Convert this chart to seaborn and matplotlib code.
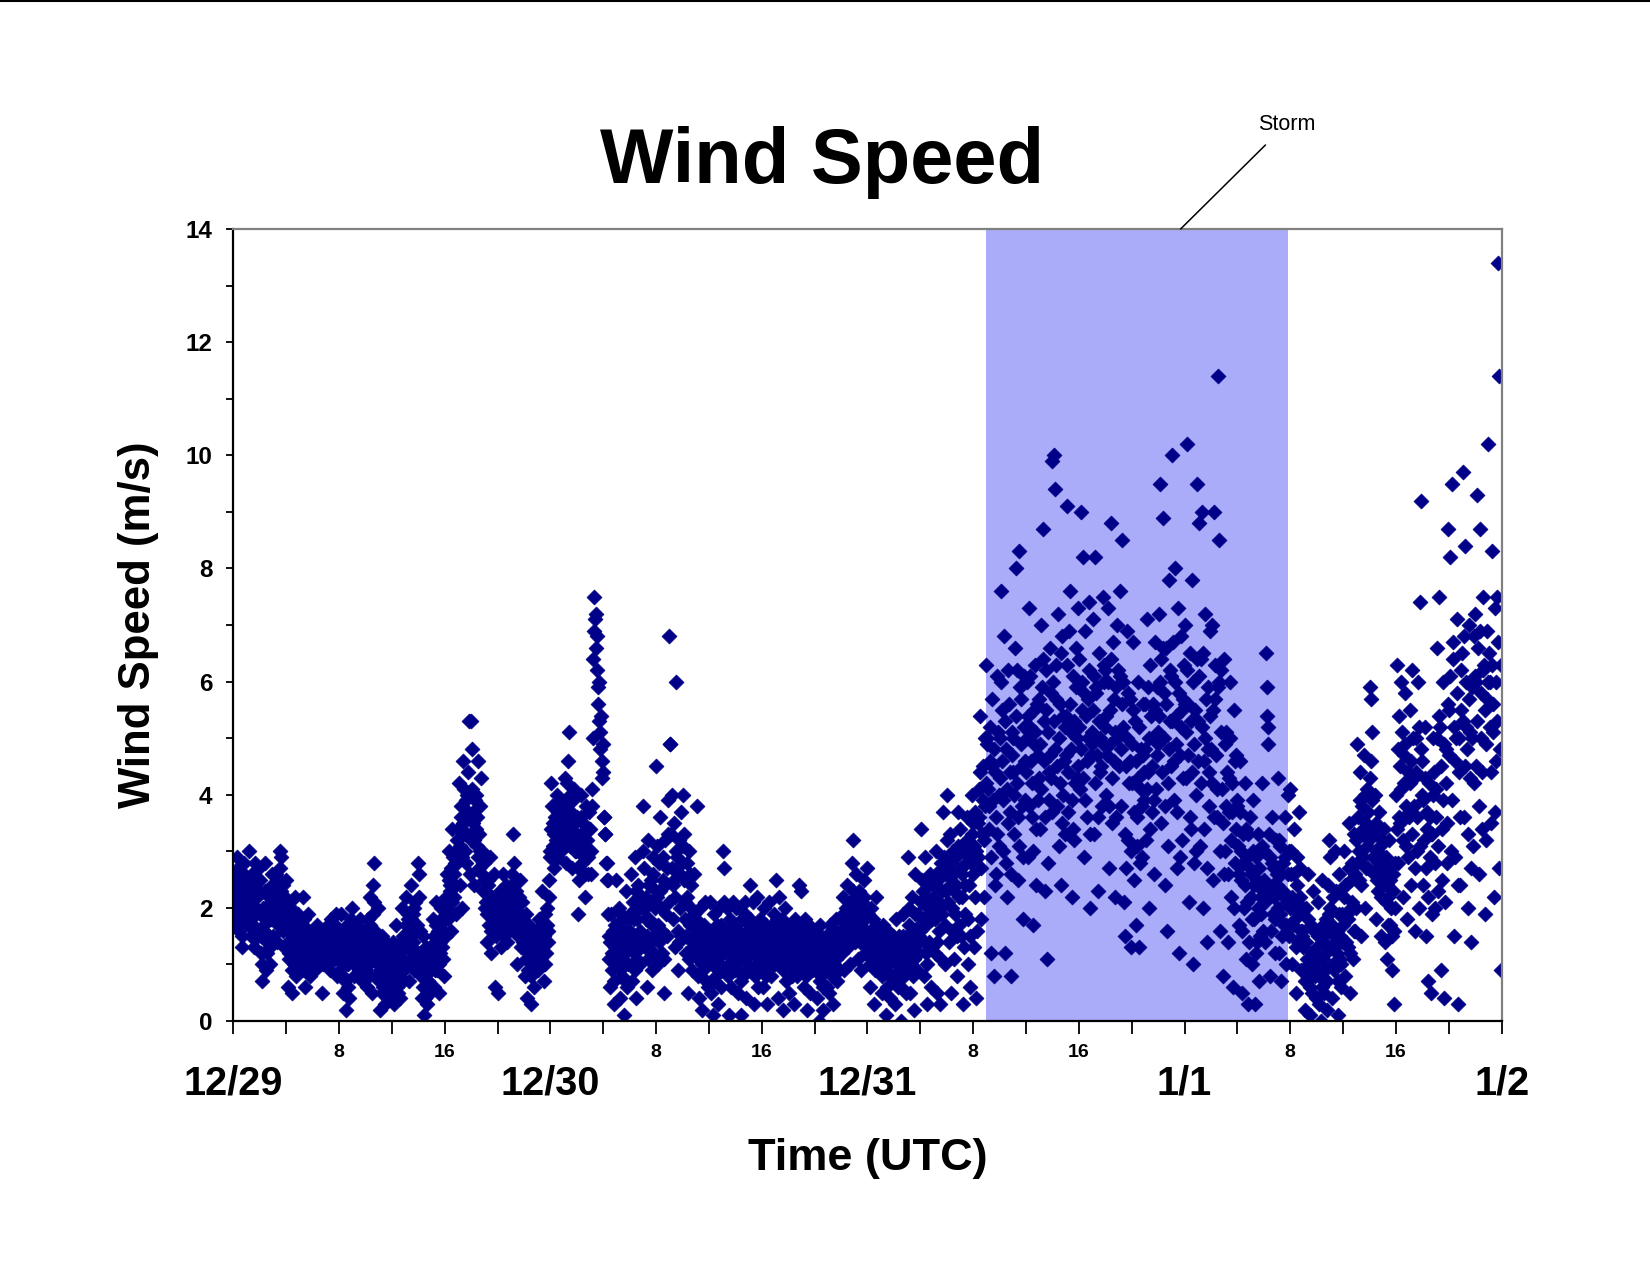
import numpy as np
import pandas as pd
import matplotlib
matplotlib.use("Agg")
import matplotlib.pyplot as plt
import matplotlib.transforms as mtransforms
import seaborn as sns

# Wind speed (m/s), 2.5-minute readings; one inner list per UTC hour
speed_1229 = [
    [2.1, 2.4, 2.6, 2.0, 1.8, 2.2, 2.9, 1.7, 2.3, 2.7, 1.6, 1.9, 2.0, 2.3, 2.5, 1.5, 1.3, 2.1, 2.2, 2.6, 2.8, 1.8, 1.9, 2.0],
    [2.4, 2.0, 1.7, 2.5, 3.0, 1.8, 2.0, 2.3, 1.5, 2.1, 2.6, 1.7, 2.2, 1.9, 1.3, 2.4, 2.8, 2.0, 1.9, 2.2, 2.3, 1.5, 1.6, 2.7],
    [2.5, 1.9, 1.2, 1.5, 0.7, 1.0, 2.0, 1.7, 1.6, 2.3, 2.8, 2.0, 0.9, 1.2, 1.4, 1.8, 2.2, 1.5, 1.0, 1.3, 1.8, 2.1, 2.6, 2.4],
    [1.5, 2.0, 2.3, 1.8, 1.9, 2.4, 2.6, 2.1, 1.4, 1.7, 2.0, 2.5, 3.0, 2.7, 2.9, 2.3, 1.7, 2.0, 2.4, 1.6, 1.3, 1.9, 2.2, 2.1],
    [2.5, 2.1, 1.8, 1.4, 0.6, 1.1, 1.2, 1.6, 2.0, 1.3, 0.5, 0.9, 1.5, 1.8, 1.0, 1.4, 2.2, 1.6, 0.8, 1.1, 1.3, 1.9, 1.7, 1.2],
    [1.2, 1.4, 1.6, 1.1, 0.9, 1.3, 2.2, 1.7, 1.8, 1.5, 0.6, 1.0, 1.4, 1.2, 1.0, 1.6, 1.9, 1.4, 1.3, 1.1, 0.8, 1.3, 1.5, 1.2],
    [1.2, 1.4, 1.6, 1.3, 0.9, 1.1, 1.4, 1.5, 1.7, 1.2, 1.1, 1.4, 1.5, 1.3, 1.0, 1.6, 1.3, 1.1, 0.5, 1.0, 1.6, 1.4, 1.2, 1.5],
    [1.4, 1.2, 1.0, 1.5, 1.7, 1.3, 1.2, 1.6, 0.9, 1.4, 1.8, 1.1, 1.3, 1.5, 1.5, 1.2, 1.1, 1.7, 1.9, 1.4, 0.8, 1.3, 1.6, 1.1],
    [1.6, 1.3, 0.9, 1.4, 1.9, 1.1, 1.2, 0.8, 0.5, 1.0, 1.4, 0.7, 0.2, 1.2, 1.7, 1.5, 1.0, 0.6, 0.4, 1.1, 1.3, 1.6, 1.8, 1.4],
    [2.0, 1.5, 1.3, 1.0, 0.8, 1.2, 1.7, 1.4, 1.1, 1.3, 1.5, 1.1, 0.9, 1.6, 1.8, 1.0, 1.2, 1.4, 0.7, 1.2, 1.4, 0.9, 1.6, 1.3],
    [1.2, 0.9, 0.6, 1.3, 1.8, 1.5, 1.0, 0.8, 2.2, 1.7, 1.4, 1.1, 0.5, 1.9, 2.4, 2.1, 2.8, 1.4, 1.6, 1.2, 0.8, 1.5, 2.0, 1.0],
    [1.3, 0.7, 0.2, 0.9, 0.9, 1.2, 1.5, 0.5, 0.6, 1.0, 1.1, 0.8, 0.3, 0.6, 1.4, 1.1, 0.8, 0.4, 1.2, 0.9, 0.5, 1.3, 1.0, 0.7],
    [0.8, 1.0, 1.4, 0.7, 0.3, 1.2, 1.1, 0.9, 1.7, 1.1, 0.6, 0.5, 1.3, 0.8, 0.4, 1.2, 1.0, 1.4, 2.0, 1.1, 1.5, 0.7, 0.9, 1.3],
    [1.5, 1.7, 2.2, 1.3, 1.0, 1.9, 1.8, 1.5, 0.7, 1.1, 2.4, 1.8, 1.3, 1.6, 1.9, 1.4, 0.9, 2.0, 2.1, 1.2, 1.6, 1.7, 1.2, 1.0],
    [2.8, 2.2, 2.6, 1.6, 1.2, 0.8, 0.4, 1.0, 1.5, 0.6, 0.1, 0.9, 0.9, 0.4, 1.3, 1.1, 0.3, 0.7, 0.7, 1.2, 1.1, 0.6, 0.5, 0.9],
    [1.0, 1.3, 1.8, 1.1, 0.6, 1.5, 1.4, 0.9, 2.1, 1.7, 0.9, 1.2, 1.6, 1.0, 0.5, 1.4, 1.2, 1.8, 2.0, 1.3, 1.5, 1.1, 0.8, 1.6],
    [2.0, 1.8, 1.5, 2.2, 2.6, 2.0, 1.8, 2.5, 3.0, 2.4, 2.3, 2.7, 1.6, 2.1, 3.4, 2.9, 2.2, 2.6, 2.8, 2.4, 1.9, 3.0, 3.2, 2.8],
    [3.0, 3.4, 4.2, 3.1, 2.4, 3.8, 3.6, 2.9, 2.0, 3.5, 4.6, 4.1, 3.3, 3.0, 2.8, 3.9, 4.0, 3.3, 3.7, 4.4, 5.3, 3.6, 2.6, 3.2],
    [5.3, 4.1, 4.8, 3.7, 3.5, 3.2, 2.4, 3.9, 4.0, 3.4, 3.1, 3.6, 4.6, 2.9, 2.7, 3.3, 3.8, 3.0, 4.3, 2.6, 3.0, 2.8, 2.3, 2.5],
    [2.8, 2.3, 2.0, 2.1, 1.4, 1.9, 2.5, 2.4, 1.7, 2.0, 2.9, 2.2, 1.2, 1.6, 2.2, 1.9, 1.8, 2.1, 2.6, 1.8, 0.6, 1.6, 1.5, 2.0],
    [0.5, 1.8, 1.6, 2.0, 2.3, 1.7, 1.3, 2.2, 2.0, 1.9, 2.6, 2.1, 1.5, 1.8, 1.9, 2.3, 2.4, 1.6, 1.4, 2.0, 2.1, 1.9, 1.7, 2.2],
    [2.0, 2.2, 2.6, 2.4, 3.3, 2.1, 2.8, 2.0, 1.6, 1.8, 2.3, 2.5, 1.0, 1.5, 1.9, 2.2, 2.5, 1.9, 1.3, 1.6, 2.1, 1.8, 1.7, 1.4],
    [1.5, 1.3, 0.8, 1.1, 1.9, 1.4, 0.4, 0.9, 1.2, 1.5, 1.7, 1.2, 0.3, 0.8, 1.0, 1.3, 1.6, 1.1, 0.6, 1.0, 1.3, 1.2, 0.9, 1.4],
    [1.3, 1.1, 0.9, 1.4, 1.8, 1.6, 1.1, 1.3, 2.3, 1.7, 1.5, 1.2, 0.7, 1.5, 1.9, 1.0, 1.2, 1.7, 2.0, 1.4, 1.6, 2.2, 2.5, 2.9],
]
speed_1230 = [
    [3.0, 3.4, 4.2, 3.8, 3.5, 3.1, 2.7, 3.3, 3.8, 3.6, 3.2, 2.9, 4.0, 3.7, 2.9, 3.4, 3.6, 3.9, 3.3, 3.0, 3.9, 3.5, 3.1, 3.7],
    [3.4, 3.8, 4.3, 3.6, 2.8, 3.3, 3.9, 4.2, 4.6, 3.5, 5.1, 4.0, 3.1, 3.4, 3.7, 3.2, 2.7, 3.9, 4.1, 3.6, 3.5, 3.0, 3.0, 3.3],
    [3.6, 3.2, 1.9, 2.7, 2.5, 3.0, 3.2, 3.6, 4.0, 3.3, 2.8, 3.1, 3.5, 2.9, 2.2, 2.6, 3.8, 3.4, 3.0, 3.2, 2.6, 2.9, 3.4, 3.7],
    [3.4, 3.0, 2.6, 3.8, 4.1, 5.0, 6.4, 6.9, 7.5, 7.1, 7.2, 6.6, 6.8, 6.2, 5.6, 5.9, 6.0, 5.3, 4.8, 5.1, 5.4, 4.6, 4.3, 4.9],
    [4.4, 3.6, 3.6, 3.3, 3.3, 2.8, 2.8, 2.5, 2.5, 1.9, 1.5, 1.1, 0.6, 1.4, 1.9, 1.2, 0.9, 1.6, 1.2, 0.7, 0.3, 1.3, 1.7, 1.0],
    [2.5, 1.7, 1.0, 1.4, 2.0, 1.1, 0.4, 0.9, 1.5, 1.9, 0.8, 1.2, 1.8, 1.5, 0.1, 0.7, 1.2, 1.6, 2.3, 1.3, 0.6, 1.0, 1.4, 1.8],
    [1.6, 1.9, 2.6, 1.3, 0.7, 1.5, 2.1, 1.8, 1.2, 0.9, 2.9, 2.3, 0.4, 1.1, 1.8, 1.4, 2.4, 2.0, 1.0, 1.6, 2.2, 1.3, 1.5, 2.0],
    [3.8, 3.0, 2.7, 2.0, 1.3, 1.8, 2.2, 1.5, 0.6, 1.1, 3.2, 2.4, 1.8, 2.1, 2.5, 1.4, 0.9, 1.7, 2.9, 2.6, 1.5, 1.2, 2.0, 2.3],
    [4.5, 3.1, 2.2, 1.7, 1.0, 1.4, 2.8, 2.3, 3.6, 2.0, 1.6, 1.2, 2.5, 2.9, 0.5, 1.1, 3.2, 2.4, 1.9, 1.5, 2.7, 3.3, 3.9, 2.1],
    [6.8, 4.9, 4.9, 3.3, 4.0, 2.7, 2.4, 1.8, 3.5, 2.5, 1.3, 2.2, 6.0, 3.0, 2.9, 1.6, 0.9, 1.4, 3.2, 2.6, 2.0, 1.5, 3.7, 2.8],
    [4.0, 3.1, 3.3, 2.5, 2.1, 1.8, 1.2, 1.5, 2.8, 2.2, 0.5, 1.1, 3.0, 2.6, 1.7, 2.0, 2.4, 1.4, 0.9, 1.3, 2.6, 1.9, 1.5, 1.2],
    [1.8, 1.4, 3.8, 1.6, 1.1, 0.8, 0.4, 1.2, 2.0, 1.5, 1.5, 1.0, 0.2, 0.9, 1.3, 1.7, 2.1, 1.4, 0.7, 1.1, 1.6, 1.2, 1.0, 0.6],
    [1.2, 1.5, 2.1, 1.3, 0.5, 1.0, 1.6, 1.2, 0.1, 0.7, 1.9, 1.4, 0.8, 1.1, 1.4, 1.7, 0.3, 0.9, 2.0, 1.3, 1.0, 0.6, 1.7, 1.2],
    [1.5, 1.2, 3.0, 2.1, 2.7, 1.6, 0.9, 1.3, 2.0, 1.5, 1.3, 0.8, 0.1, 1.0, 1.8, 1.4, 0.6, 1.2, 1.1, 1.7, 2.1, 1.5, 1.4, 0.9],
    [1.0, 1.3, 2.0, 1.6, 0.5, 0.9, 1.6, 1.2, 1.2, 1.5, 0.1, 0.7, 1.8, 1.4, 0.8, 1.1, 1.4, 1.9, 2.1, 1.3, 0.4, 1.0, 1.3, 1.6],
    [1.7, 1.4, 2.4, 1.8, 0.9, 1.2, 1.3, 1.6, 2.1, 1.5, 0.3, 0.8, 1.5, 1.2, 1.0, 1.4, 2.2, 1.7, 0.6, 1.1, 1.8, 1.3, 1.2, 0.9],
    [1.4, 1.1, 0.6, 1.3, 2.0, 1.6, 1.1, 0.8, 1.7, 1.4, 0.3, 1.0, 1.3, 1.5, 2.1, 1.2, 0.8, 1.4, 1.5, 1.7, 1.0, 1.2, 1.9, 1.3],
    [1.0, 1.4, 2.5, 1.8, 1.6, 1.2, 0.4, 1.0, 2.2, 1.5, 1.2, 1.7, 1.8, 1.3, 0.2, 0.9, 1.4, 1.1, 2.0, 1.6, 0.7, 1.2, 1.5, 1.3],
    [1.3, 1.0, 0.5, 1.2, 1.7, 1.4, 1.0, 0.8, 1.5, 1.2, 0.3, 0.9, 1.8, 1.3, 1.1, 1.5, 0.8, 1.0, 1.6, 1.3, 2.4, 1.7, 1.2, 0.9],
    [2.3, 1.6, 1.5, 1.1, 0.6, 1.3, 1.8, 1.4, 1.0, 0.8, 0.2, 1.2, 1.4, 1.6, 1.7, 1.0, 0.5, 1.3, 1.2, 0.9, 0.9, 1.4, 1.6, 1.1],
    [1.1, 1.4, 1.6, 0.9, 0.4, 1.1, 1.3, 1.5, 0.0, 0.7, 1.7, 1.2, 0.8, 1.0, 1.4, 0.6, 0.2, 1.2, 1.0, 1.3, 1.5, 0.9, 0.6, 1.1],
    [1.3, 1.1, 0.5, 1.4, 1.7, 1.2, 1.0, 0.8, 1.5, 1.3, 0.3, 1.0, 1.2, 1.6, 1.8, 1.1, 0.7, 1.4, 1.4, 1.2, 0.9, 1.5, 1.6, 1.3],
    [1.8, 1.5, 1.2, 1.9, 2.2, 1.6, 0.9, 1.4, 1.6, 2.0, 2.4, 1.7, 1.3, 1.9, 2.0, 1.5, 1.0, 1.8, 1.7, 2.1, 2.8, 2.3, 3.2, 2.0],
    [2.0, 1.7, 1.4, 2.2, 2.6, 1.8, 1.1, 1.6, 2.3, 2.0, 1.7, 1.4, 0.9, 1.5, 2.1, 1.9, 1.5, 2.2, 2.5, 1.8, 1.2, 1.6, 1.9, 1.3],
]
speed_1231 = [
    [2.7, 1.9, 1.5, 1.2, 0.6, 1.0, 2.0, 1.6, 1.1, 1.4, 1.8, 1.3, 0.3, 0.9, 1.4, 1.7, 2.2, 1.5, 0.9, 1.2, 1.6, 1.0, 1.2, 1.5],
    [1.2, 1.0, 0.5, 0.8, 1.7, 1.3, 0.9, 1.1, 1.4, 1.2, 0.1, 0.6, 1.1, 1.4, 1.6, 1.0, 0.4, 0.8, 1.3, 1.5, 0.8, 1.1, 1.5, 1.2],
    [1.4, 1.1, 0.3, 0.7, 1.8, 1.4, 1.0, 1.2, 0.6, 0.9, 1.5, 1.3, 0.0, 0.6, 1.2, 1.0, 1.9, 1.5, 0.8, 1.1, 1.3, 0.9, 0.5, 1.0],
    [1.0, 1.4, 2.9, 2.0, 1.7, 1.2, 0.5, 1.0, 2.2, 1.6, 1.3, 0.8, 0.2, 1.1, 2.6, 1.9, 1.5, 1.2, 0.9, 1.4, 1.9, 1.5, 1.2, 1.7],
    [1.6, 2.1, 3.4, 2.5, 2.3, 1.8, 0.8, 1.4, 2.9, 2.2, 1.2, 1.7, 0.3, 1.0, 2.0, 2.4, 1.4, 1.9, 2.6, 2.1, 0.6, 1.3, 1.8, 2.2],
    [2.0, 2.4, 1.2, 1.8, 3.0, 2.6, 0.5, 1.4, 2.5, 2.1, 1.6, 2.0, 0.3, 1.1, 2.8, 2.3, 1.9, 2.7, 3.7, 2.9, 1.0, 1.7, 2.3, 2.6],
    [4.0, 3.2, 2.6, 2.1, 1.4, 2.4, 3.3, 2.8, 0.5, 1.6, 2.0, 2.6, 3.0, 2.3, 1.1, 1.9, 2.4, 2.9, 0.8, 1.5, 3.7, 3.1, 1.7, 2.2],
    [3.4, 2.7, 1.5, 2.2, 2.6, 3.1, 0.3, 1.3, 3.0, 2.4, 1.9, 2.8, 3.6, 3.2, 1.0, 1.8, 2.4, 2.9, 0.6, 1.5, 2.8, 3.3, 4.0, 3.5],
    [2.6, 3.1, 1.3, 2.2, 3.7, 3.0, 0.4, 1.6, 2.9, 3.5, 4.1, 3.6, 5.4, 4.4, 1.8, 2.7, 3.3, 3.9, 4.5, 3.2, 2.2, 3.8, 5.0, 4.2],
    [6.3, 4.9, 5.0, 4.1, 3.4, 3.8, 4.6, 5.2, 1.2, 2.9, 5.7, 4.5, 3.9, 4.8, 0.8, 2.4, 4.4, 3.6, 2.6, 3.3, 6.1, 5.1, 3.1, 4.0],
    [4.3, 5.0, 7.6, 6.0, 5.5, 4.6, 3.0, 3.9, 6.8, 5.3, 1.2, 2.8, 4.8, 4.1, 2.2, 3.5, 6.2, 5.6, 3.7, 4.4, 0.8, 2.6, 5.1, 4.7],
    [5.0, 4.4, 3.3, 4.0, 6.6, 5.4, 8.0, 6.2, 4.2, 3.6, 2.5, 3.1, 8.3, 5.9, 5.7, 4.9, 3.8, 4.5, 1.8, 2.9, 6.1, 5.2, 4.6, 3.9],
    [4.4, 5.0, 6.0, 5.4, 2.9, 3.8, 7.3, 6.1, 5.2, 4.6, 3.6, 4.2, 1.7, 3.0, 4.9, 5.5, 6.3, 5.1, 2.4, 3.4, 5.6, 4.7, 3.9, 4.3],
    [5.7, 4.9, 3.4, 4.1, 7.0, 5.9, 8.7, 6.4, 4.6, 5.3, 2.3, 3.6, 6.2, 5.5, 1.1, 2.8, 5.1, 4.4, 3.9, 4.7, 6.6, 5.8, 4.3, 3.7],
    [9.9, 6.0, 10.0, 5.3, 9.4, 4.8, 6.3, 5.7, 4.5, 3.8, 7.2, 5.0, 3.1, 4.2, 5.6, 6.5, 2.4, 3.5, 6.8, 5.4, 4.0, 4.6, 5.2, 3.3],
    [5.4, 4.7, 9.1, 6.3, 3.7, 4.4, 6.9, 5.6, 7.6, 5.1, 4.8, 3.9, 2.2, 3.4, 6.1, 5.3, 3.2, 4.2, 5.9, 6.6, 4.3, 5.0, 7.3, 4.5],
    [6.4, 5.2, 4.1, 4.8, 9.0, 6.0, 5.5, 4.3, 8.2, 5.8, 2.9, 3.9, 6.9, 5.4, 3.6, 4.6, 5.0, 5.7, 7.4, 6.2, 2.0, 3.3, 4.7, 5.1],
    [4.9, 5.5, 7.1, 6.1, 3.3, 4.2, 8.2, 5.9, 5.8, 4.7, 2.3, 3.6, 6.5, 5.3, 4.4, 5.0, 5.3, 4.5, 3.8, 4.9, 7.5, 6.3, 6.0, 5.2],
    [6.2, 5.4, 4.0, 4.7, 7.3, 6.0, 2.7, 3.8, 5.5, 4.9, 8.8, 6.4, 3.5, 4.3, 6.7, 5.7, 4.6, 5.1, 2.2, 3.6, 5.9, 5.0, 7.0, 6.2],
    [5.1, 4.5, 7.6, 6.1, 3.8, 4.8, 8.5, 5.6, 6.0, 5.2, 2.1, 3.3, 1.5, 2.7, 4.5, 5.0, 6.9, 5.8, 3.2, 4.2, 5.7, 4.6, 1.3, 3.0],
    [4.2, 4.9, 6.7, 5.5, 2.5, 3.7, 5.3, 4.6, 1.7, 3.1, 3.6, 4.3, 6.0, 5.2, 1.3, 2.8, 4.8, 4.1, 2.9, 3.8, 5.6, 4.7, 3.9, 4.4],
    [5.6, 4.8, 3.2, 4.1, 7.1, 5.9, 4.4, 5.0, 2.0, 3.4, 6.3, 5.4, 3.7, 4.5, 5.0, 5.6, 2.6, 3.9, 6.7, 5.5, 4.1, 4.7, 5.9, 5.1],
    [4.9, 5.4, 7.2, 6.0, 9.5, 6.4, 3.5, 4.4, 8.9, 6.6, 5.8, 5.0, 2.4, 3.8, 6.6, 5.6, 1.6, 3.1, 4.2, 4.8, 7.8, 6.2, 5.3, 4.5],
    [6.1, 5.3, 10.0, 6.7, 3.9, 4.6, 8.0, 6.0, 5.4, 4.9, 2.7, 3.7, 7.3, 5.8, 1.2, 2.9, 4.7, 5.2, 6.8, 5.5, 3.2, 4.3, 5.7, 6.3],
]
speed_0101 = [
    [7.0, 5.6, 4.3, 5.1, 10.2, 6.2, 5.6, 4.7, 2.1, 3.6, 6.5, 5.3, 3.4, 4.4, 7.8, 6.0, 1.0, 2.8, 4.9, 5.5, 3.0, 4.0, 9.5, 6.4],
    [5.3, 4.6, 8.8, 6.1, 3.1, 4.2, 6.4, 5.2, 9.0, 6.5, 2.0, 3.4, 4.6, 5.0, 7.2, 5.7, 1.4, 2.7, 5.9, 4.8, 3.8, 4.4, 6.9, 5.4],
    [4.8, 4.2, 7.0, 5.5, 2.5, 3.6, 9.0, 6.3, 5.7, 4.7, 3.6, 4.1, 11.4, 5.9, 8.5, 6.0, 1.6, 3.0, 6.2, 5.1, 4.1, 3.5, 0.8, 2.6],
    [6.4, 4.9, 3.0, 3.8, 5.1, 4.4, 1.4, 2.6, 4.3, 3.7, 6.0, 5.0, 2.2, 3.2, 3.7, 4.2, 0.6, 2.0, 5.5, 4.6, 2.8, 3.4, 4.7, 3.9],
    [3.8, 3.1, 1.7, 2.6, 4.6, 3.7, 2.5, 3.0, 0.5, 1.6, 3.3, 2.8, 2.0, 2.4, 4.2, 3.4, 1.1, 2.1, 2.9, 3.3, 0.3, 1.4, 3.6, 2.7],
    [2.6, 2.2, 1.0, 1.8, 3.9, 3.0, 1.8, 2.4, 0.3, 1.2, 2.9, 2.5, 1.4, 2.0, 3.3, 2.7, 0.7, 1.5, 2.2, 1.9, 4.2, 3.1, 1.6, 2.3],
    [3.0, 2.5, 1.4, 2.1, 6.5, 5.9, 5.4, 5.2, 4.9, 3.3, 2.3, 2.9, 0.8, 1.6, 3.6, 2.8, 1.9, 2.4, 2.7, 2.2, 1.2, 1.8, 3.2, 2.6],
    [2.4, 2.0, 4.3, 3.2, 1.2, 1.9, 3.1, 2.6, 0.7, 1.5, 2.8, 2.3, 1.7, 2.2, 3.6, 2.9, 1.0, 1.7, 2.1, 2.6, 4.0, 3.0, 1.5, 2.0],
    [4.1, 3.0, 2.6, 2.2, 1.0, 1.7, 3.4, 2.6, 1.8, 2.1, 0.5, 1.3, 2.9, 2.4, 1.4, 1.9, 3.7, 2.7, 2.2, 1.6, 0.9, 1.5, 1.6, 2.0],
    [1.3, 0.9, 0.2, 0.7, 2.0, 1.4, 0.7, 1.1, 2.6, 1.8, 1.0, 0.6, 0.1, 0.8, 1.7, 1.2, 0.5, 1.0, 2.3, 1.6, 1.2, 0.8, 0.4, 1.1],
    [0.9, 1.3, 2.1, 1.5, 0.3, 0.8, 1.5, 1.1, 0.0, 0.6, 2.5, 1.7, 1.1, 1.4, 0.5, 0.9, 1.8, 1.2, 0.2, 0.7, 2.4, 1.6, 3.2, 1.9],
    [2.9, 2.0, 1.3, 1.7, 0.4, 1.0, 2.2, 1.5, 0.9, 1.3, 3.0, 2.3, 1.6, 1.2, 0.1, 0.7, 2.6, 1.9, 1.1, 1.5, 0.6, 1.0, 1.9, 1.4],
    [1.7, 2.2, 3.0, 2.4, 0.8, 1.4, 2.4, 1.9, 1.3, 1.8, 3.5, 2.7, 0.5, 1.2, 2.0, 2.5, 2.8, 2.1, 1.1, 1.6, 3.3, 2.6, 1.6, 2.0],
    [3.2, 2.8, 4.9, 3.6, 2.5, 3.0, 4.4, 3.9, 1.5, 2.4, 3.8, 3.3, 2.9, 3.4, 4.7, 4.0, 2.0, 2.7, 3.5, 3.1, 4.1, 3.7, 2.7, 3.2],
    [5.9, 4.3, 5.7, 4.6, 5.1, 3.9, 3.4, 2.9, 2.6, 3.3, 4.0, 3.5, 1.8, 2.5, 3.0, 2.7, 2.3, 2.8, 3.7, 3.1, 1.5, 2.2, 2.8, 3.2],
    [2.5, 2.9, 3.4, 2.6, 1.4, 2.1, 2.9, 2.4, 1.1, 1.7, 2.2, 2.7, 3.2, 2.5, 1.7, 2.0, 0.9, 1.5, 2.6, 2.3, 0.3, 1.6, 2.0, 2.8],
    [4.0, 3.4, 6.3, 4.8, 2.8, 3.6, 5.4, 4.5, 3.5, 4.1, 6.0, 5.1, 2.2, 3.2, 4.7, 4.2, 5.8, 4.9, 3.1, 3.8, 1.8, 2.9, 4.4, 3.7],
    [3.6, 4.2, 5.5, 4.6, 2.4, 3.3, 6.2, 5.0, 4.3, 3.8, 1.6, 2.7, 5.0, 4.4, 3.0, 3.6, 6.0, 5.2, 2.0, 3.1, 7.4, 4.8, 9.2, 4.0],
    [4.6, 3.9, 2.4, 3.2, 5.2, 4.3, 1.5, 2.7, 3.7, 3.4, 0.7, 2.2, 4.2, 3.6, 2.9, 3.3, 0.5, 1.9, 3.3, 4.0, 5.0, 4.4, 2.0, 2.8],
    [4.1, 3.6, 6.6, 5.0, 2.3, 3.1, 7.5, 5.4, 5.2, 4.5, 0.9, 2.5, 3.4, 3.9, 6.0, 4.9, 0.4, 2.1, 4.8, 4.2, 2.8, 3.5, 8.7, 5.6],
    [5.5, 4.7, 8.2, 6.1, 3.0, 3.9, 9.5, 6.4, 6.7, 5.2, 1.5, 2.9, 4.6, 5.0, 7.1, 5.8, 0.3, 2.4, 5.0, 4.4, 2.4, 3.6, 6.2, 5.5],
    [6.5, 5.3, 9.7, 6.8, 3.6, 4.5, 8.4, 6.0, 5.2, 4.8, 2.0, 3.3, 7.0, 5.7, 4.3, 5.1, 1.4, 2.7, 5.9, 5.0, 3.1, 4.2, 6.8, 6.1],
    [7.2, 6.0, 4.5, 5.3, 9.3, 6.6, 2.6, 3.8, 8.7, 6.9, 5.8, 5.0, 3.4, 4.4, 7.5, 6.2, 6.3, 5.5, 1.9, 3.2, 4.9, 5.7, 6.9, 6.0],
    [10.2, 6.5, 6.0, 5.2, 3.5, 4.4, 8.3, 6.3, 5.1, 5.6, 2.2, 3.7, 7.3, 6.0, 4.6, 5.3, 7.5, 6.7, 13.4, 11.4, 2.7, 4.8, 0.9, 6.3],
]

day_labels = ["12/29", "12/30", "12/31", "1/1", "1/2"]
storm_span = (57.0, 79.8)      # hours after 12/29 00 UTC
storm_pointer = (71.7, 14.0)   # where the "Storm" leader meets the frame
storm_text_pos = (79.7, 15.85)

# flatten to (hours since 12/29 00 UTC, speed)
rows = []
for d, day in enumerate([speed_1229, speed_1230, speed_1231, speed_0101]):
    for h, hour in enumerate(day):
        for j, v in enumerate(hour):
            rows.append((24 * d + h + j / len(hour), v))
df = pd.DataFrame(rows, columns=["hours", "speed"])

sns.set_style("white")
plt.rcParams["font.family"] = ["Liberation Sans", "DejaVu Sans"]
plt.rcParams["text.color"] = "black"
plt.rcParams["axes.labelcolor"] = "black"

fig = plt.figure(figsize=(16.5, 12.75), dpi=100)
ax = fig.add_axes([0.1414, 0.1992, 0.7687, 0.6212])

ax.axvspan(*storm_span, color="#abacf9", lw=0, zorder=0)
sns.scatterplot(data=df, x="hours", y="speed", marker="D", s=58,
                color="#000088", edgecolor="#000088", linewidth=0.5,
                legend=False, ax=ax, zorder=2)

ax.set_xlim(0, 96)
ax.set_ylim(0, 14)

# y axis: majors every 2, minors every 1
ax.set_yticks(np.arange(0, 15, 2))
ax.set_yticks(np.arange(1, 14, 2), minor=True)
ax.tick_params(axis="y", which="both", direction="out", left=True,
               length=5, width=1.3, colors="black", labelsize=17.5, pad=10)
for lab in ax.get_yticklabels():
    lab.set_fontweight("bold")

# x axis: ticks every 4 h, only 8 and 16 labelled
xt = np.arange(0, 97, 4)
ax.set_xticks(xt)
ax.set_xticklabels([str(h % 24) if h % 24 in (8, 16) else "" for h in xt],
                   fontweight="bold")
ax.tick_params(axis="x", direction="out", bottom=True, length=9.5,
               width=1.3, colors="black", labelsize=14, pad=7)

trans = mtransforms.blended_transform_factory(ax.transData, ax.transAxes)
for i, lab in enumerate(day_labels):
    ax.text(i * 24, -0.079, lab, transform=trans, ha="center", va="center",
            fontsize=28.5, fontweight="bold")

for side in ["left", "bottom"]:
    ax.spines[side].set_color("black")
    ax.spines[side].set_linewidth(1.6)
for side in ["top", "right"]:
    ax.spines[side].set_color("#808080")
    ax.spines[side].set_linewidth(1.6)

ax.set_xlabel("Time (UTC)", fontsize=32.5, fontweight="bold")
ax.xaxis.label.set_verticalalignment("center")
ax.xaxis.set_label_coords(0.5, -0.173)
ax.set_ylabel("Wind Speed (m/s)", fontsize=31.5, fontweight="bold")
ax.yaxis.label.set_verticalalignment("center")
ax.yaxis.set_label_coords(-0.0745, 0.5)

ax.annotate("Storm", xy=storm_pointer, xytext=storm_text_pos,
            ha="center", va="center", fontsize=15.5, annotation_clip=False,
            arrowprops=dict(arrowstyle="-", color="black", lw=1.1,
                            shrinkA=7, shrinkB=0))

fig.text(0.4979, 0.8565, "Wind Speed", ha="center", va="baseline",
         fontsize=56, fontweight="bold")

# thin rule along the top edge of the page
fig.add_artist(plt.Line2D([0, 1], [0.9994, 0.9994], color="black", lw=1.5))

fig.savefig("out.png", dpi=100)
